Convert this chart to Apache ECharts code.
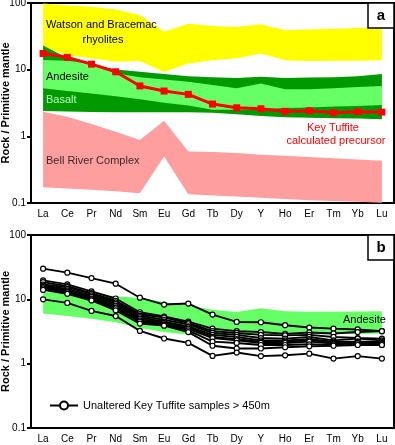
<!DOCTYPE html>
<html>
<head>
<meta charset="utf-8">
<script src="https://cdn.jsdelivr.net/npm/echarts@6/dist/echarts.min.js"></script>
<style>
  html, body { margin: 0; padding: 0; background: #fff; }
  #chart { width: 395px; height: 445px; }
</style>
</head>
<body>
<div id="chart"></div>
<script>
const elements = ['La', 'Ce', 'Pr', 'Nd', 'Sm', 'Eu', 'Gd', 'Tb', 'Dy', 'Y', 'Ho', 'Er', 'Tm', 'Yb', 'Lu']

// panel a: envelopes (low / high)
const rhyoliteHigh = [98, 92, 88, 80, 66, 37, 49, 45, 43.5, 48, 39, 40, 41, 42, 43.5]
const rhyoliteLow = [22, 16.5, 14.8, 13.1, 13.5, 9.2, 12.4, 13.9, 14.8, 17.5, 13.9, 13.5, 13.6, 13.6, 13.9]
const basaltHigh = [23, 15, 12, 10.1, 9.3, 8.6, 8.0, 7.7, 7.5, 7.8, 7.5, 7.6, 7.7, 8.0, 8.6]
const basaltLow = [2.39, 2.35, 2.32, 2.3, 2.3, 2.3, 2.3, 2.26, 2.15, 2.01, 1.93, 1.9, 1.87, 1.85, 1.8]
const andesiteHighA = [14, 13.6, 12.3, 8.8, 7.7, 7.1, 6.6, 5.9, 5.25, 6.2, 5.07, 5.1, 5.25, 5.5, 5.7]
const andesiteLowA = [5.25, 4.8, 4.4, 4.0, 3.6, 3.2, 2.9, 2.5, 2.5, 2.55, 2.65, 2.7, 2.8, 2.85, 2.95]
const bellRiverHigh = [2.34, 1.97, 1.53, 1.17, 0.88, 1.71, 0.59, 0.58, 0.56, 0.53, 0.51, 0.49, 0.47, 0.45, 0.43]
const bellRiverLow = [0.172, 0.165, 0.158, 0.15, 0.14, 0.5, 0.135, 0.13, 0.125, 0.12, 0.115, 0.11, 0.107, 0.104, 0.101]
const keyTuffite = [17.5, 15.3, 12.1, 9.3, 5.7, 4.78, 4.26, 3.05, 2.68, 2.59, 2.37, 2.42, 2.26, 2.34, 2.31]

// panel b
const andesiteHighB = [13, 12.5, 12, 11.2, 10.5, 9.1, 8.0, 6.9, 6.35, 7.3, 6.5, 6.4, 6.4, 6.45, 6.5]
const andesiteLowB = [6.0, 5.5, 5.0, 4.4, 3.6, 3.1, 2.85, 2.8, 2.8, 2.8, 2.8, 2.85, 2.9, 2.9, 2.95]
const samples = [
  [30, 26, 21.4, 17.5, 10.6, 8.3, 8.6, 5.8, 4.45, 4.4, 3.96, 3.64, 3.5, 3.4, 3.2],
  [19.7, 17.1, 13.3, 10.3, 6.3, 5.4, 4.5, 3.5, 3.2, 3.1, 2.9, 3.05, 2.95, 3.1, 3.2],
  [18.5, 16.0, 12.5, 9.5, 5.9, 5.2, 4.3, 3.2, 3.0, 2.8, 2.75, 2.8, 2.6, 2.5, 2.45],
  [17.0, 15.5, 12.2, 9.0, 5.6, 4.8, 4.1, 3.0, 2.8, 2.5, 2.45, 2.6, 2.3, 2.45, 2.3],
  [16.5, 14.5, 11.5, 8.5, 5.3, 4.5, 3.8, 2.8, 2.6, 2.3, 2.3, 2.4, 2.2, 2.2, 2.2],
  [16.0, 13.8, 10.9, 8.0, 5.0, 4.3, 3.7, 2.6, 2.4, 2.2, 2.2, 2.3, 2.1, 2.2, 2.1],
  [15.5, 13.2, 10.3, 7.5, 4.7, 4.1, 3.5, 2.5, 2.3, 2.1, 2.1, 2.2, 2.05, 2.1, 2.05],
  [14.8, 12.8, 10.0, 7.2, 4.5, 4.0, 3.3, 2.2, 2.1, 1.95, 1.95, 2.0, 1.95, 2.0, 1.95],
  [14.0, 12.2, 9.6, 6.75, 4.2, 3.9, 3.1, 1.9, 1.72, 1.72, 1.8, 1.86, 1.9, 1.95, 1.95],
  [10, 8.8, 6.6, 5.5, 3.23, 2.46, 2.1, 1.32, 1.49, 1.31, 1.35, 1.43, 1.2, 1.31, 1.2]
]
const sampleName = 'Unaltered Key Tuffite samples > 450m'

const FONT = 'Liberation Sans, Arial, sans-serif'

function band(low, high, color, gi, z) {
  return {
    type: 'custom',
    xAxisIndex: gi,
    yAxisIndex: gi,
    silent: true,
    z: z,
    data: elements.map((e, i) => [i, low[i], high[i]]),
    renderItem(params, api) {
      if (params.dataIndex !== 0) return null
      const top = high.map((v, i) => api.coord([i, v]))
      const bot = low.map((v, i) => api.coord([i, v])).reverse()
      return { type: 'polygon', shape: { points: top.concat(bot) }, style: { fill: color } }
    }
  }
}

function xAxis(gi) {
  return {
    type: 'category',
    gridIndex: gi,
    data: elements,
    boundaryGap: true,
    axisLine: { lineStyle: { color: '#000', width: 2 } },
    axisTick: { alignWithLabel: true, length: 4, lineStyle: { width: 2, color: '#000' } },
    axisLabel: { color: '#000', fontSize: 10, fontFamily: FONT, margin: 6 },
    splitLine: { show: false }
  }
}

function yAxis(gi) {
  return {
    type: 'log',
    gridIndex: gi,
    logBase: 10,
    min: 0.1,
    max: 100,
    name: 'Rock / Primitive mantle',
    nameLocation: 'middle',
    nameGap: 20,
    nameMoveOverlap: false,
    nameTextStyle: { color: '#000', fontSize: 11, fontWeight: 'bold', fontFamily: FONT },
    axisLine: { show: true, lineStyle: { color: '#000', width: 2 } },
    axisTick: { show: true, length: 4, lineStyle: { width: 2, color: '#000' } },
    minorTick: { show: false },
    axisLabel: { color: '#000', fontSize: 10, fontFamily: FONT, margin: 5,
      formatter: (v) => (v < 1 ? '0.1' : String(Math.round(v))) },
    splitLine: { show: false }
  }
}

function label(text, x, y, opts) {
  return {
    type: 'text', x: x, y: y, z: 100, silent: true,
    style: Object.assign({
      text: text, fill: '#000', font: '11px ' + FONT,
      align: 'left', verticalAlign: 'middle'
    }, opts || {})
  }
}

function panelTag(letter, top) {
  return [
    { type: 'rect', z: 100, shape: { x: 368, y: top, width: 26, height: 25 },
      style: { fill: '#fff', stroke: '#000', lineWidth: 1.5 } },
    label(letter, 381, top + 12.5, { align: 'center', font: 'bold 15px ' + FONT })
  ]
}

const series = [
  band(rhyoliteLow, rhyoliteHigh, '#ffff00', 0, 1),
  band(basaltLow, basaltHigh, '#009900', 0, 2),
  band(andesiteLowA, andesiteHighA, '#66ff66', 0, 3),
  band(bellRiverLow, bellRiverHigh, '#ff9e9e', 0, 4),
  {
    type: 'line', xAxisIndex: 0, yAxisIndex: 0, z: 10,
    data: keyTuffite,
    symbol: 'rect', symbolSize: 7,
    lineStyle: { color: '#ff0000', width: 3 },
    itemStyle: { color: '#ff0000' },
    silent: true
  },
  band(andesiteLowB, andesiteHighB, '#66ff66', 1, 1)
]

samples.forEach((s) => {
  series.push({
    type: 'line', name: sampleName, xAxisIndex: 1, yAxisIndex: 1, z: 10,
    data: s,
    symbol: 'circle', symbolSize: 5,
    lineStyle: { color: '#000', width: 1.9 },
    itemStyle: { color: '#fff', borderColor: '#000', borderWidth: 1.2 }
  })
})

const chart = echarts.init(document.getElementById('chart'))
chart.setOption({
  animation: false,
  grid: [
    { left: 31, right: 1, top: 3, height: 200, outerBoundsMode: 'none', containLabel: false,
      show: true, borderColor: '#000', borderWidth: 2, backgroundColor: 'transparent' },
    { left: 31, right: 1, top: 235, height: 193, outerBoundsMode: 'none', containLabel: false,
      show: true, borderColor: '#000', borderWidth: 2, backgroundColor: 'transparent' }
  ],
  xAxis: [xAxis(0), xAxis(1)],
  yAxis: [yAxis(0), yAxis(1)],
  legend: {
    data: [sampleName],
    left: 44, top: 395,
    itemWidth: 28, itemHeight: 10,
    textStyle: { color: '#000', fontSize: 11, fontFamily: FONT }
  },
  series: series,
  graphic: [
    label('Watson and Bracemac', 46, 25),
    label('rhyolites', 103, 40, { align: 'center' }),
    label('Andesite', 46, 77),
    label('Basalt', 46, 100, { fill: '#b8ffb8' }),
    label('Bell River Complex', 46, 161, { fill: '#3a2a2a' }),
    label('Key Tuffite', 333, 128, { align: 'center', fill: '#ff0000' }),
    label('calculated precursor', 336, 141, { align: 'center', fill: '#ff0000' }),
    label('Andesite', 343, 320),
    ...panelTag('a', 3),
    ...panelTag('b', 235)
  ]
})
</script>
</body>
</html>
